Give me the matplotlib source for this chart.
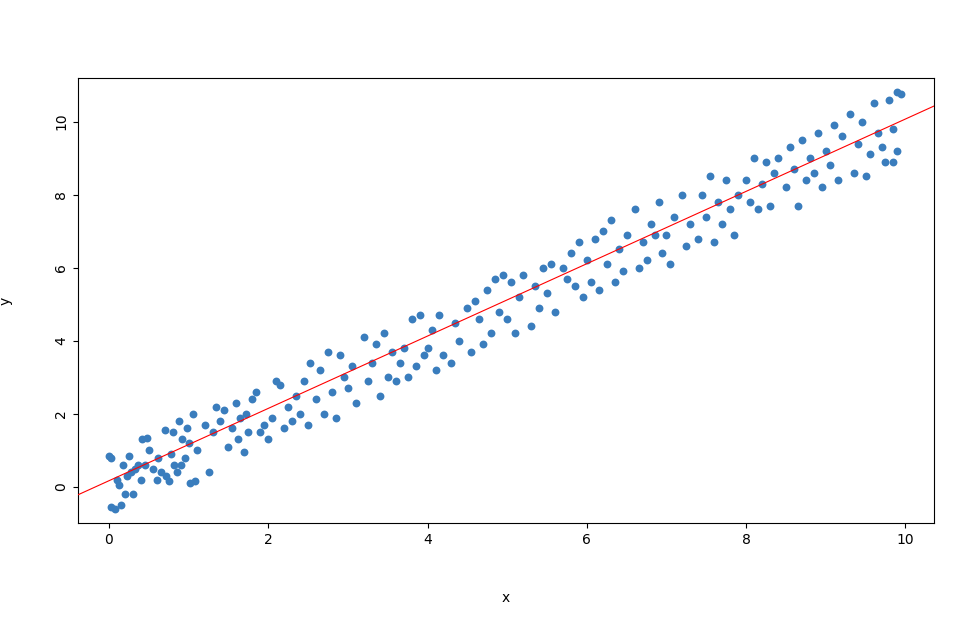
import matplotlib
matplotlib.use("Agg")
import matplotlib.pyplot as plt

pts = [(0.0,0.85),(0.02,0.8),(0.03,-0.55),(0.08,-0.6),(0.1,0.2),(0.12,0.05),(0.15,-0.5),(0.18,0.6),(0.2,-0.2),(0.22,0.3),(0.25,0.85),(0.28,0.4),(0.3,-0.2),(0.33,0.5),(0.36,0.6),(0.4,0.2),(0.42,1.3),(0.45,0.6),(0.48,1.35),(0.5,1.0),(0.55,0.5),(0.6,0.2),(0.62,0.8),(0.65,0.4),(0.7,1.55),(0.72,0.3),(0.75,0.15),(0.78,0.9),(0.8,1.5),(0.82,0.6),(0.85,0.4),(0.88,1.8),(0.9,0.6),(0.92,1.3),(0.95,0.8),(0.98,1.6),(1.0,1.2),(1.02,0.1),(1.05,2.0),(1.08,0.15),(1.1,1.0),(1.2,1.7),(1.25,0.4),(1.3,1.5),(1.35,2.2),(1.4,1.8),(1.45,2.1),(1.5,1.1),(1.55,1.6),(1.6,2.3),(1.62,1.3),(1.65,1.9),(1.7,0.95),(1.72,2.0),(1.75,1.5),(1.8,2.4),(1.85,2.6),(1.9,1.5),(1.95,1.7),(2.0,1.3),(2.05,1.9),(2.1,2.9),(2.15,2.8),(2.2,1.6),(2.25,2.2),(2.3,1.8),(2.35,2.5),(2.4,2.0),(2.45,2.9),(2.5,1.7),(2.52,3.4),(2.6,2.4),(2.65,3.2),(2.7,2.0),(2.75,3.7),(2.8,2.6),(2.85,1.9),(2.9,3.6),(2.95,3.0),(3.0,2.7),(3.05,3.3),(3.1,2.3),(3.2,4.1),(3.25,2.9),(3.3,3.4),(3.35,3.9),(3.4,2.5),(3.45,4.2),(3.5,3.0),(3.55,3.7),(3.6,2.9),(3.65,3.4),(3.7,3.8),(3.75,3.0),(3.8,4.6),(3.85,3.3),(3.9,4.7),(3.95,3.6),(4.0,3.8),(4.05,4.3),(4.1,3.2),(4.15,4.7),(4.2,3.6),(4.3,3.4),(4.35,4.5),(4.4,4.0),(4.5,4.9),(4.55,3.7),(4.6,5.1),(4.65,4.6),(4.7,3.9),(4.75,5.4),(4.8,4.2),(4.85,5.7),(4.9,4.8),(4.95,5.8),(5.0,4.6),(5.05,5.6),(5.1,4.2),(5.15,5.2),(5.2,5.8),(5.3,4.4),(5.35,5.5),(5.4,4.9),(5.45,6.0),(5.5,5.3),(5.55,6.1),(5.6,4.8),(5.7,6.0),(5.75,5.7),(5.8,6.4),(5.85,5.5),(5.9,6.7),(5.95,5.2),(6.0,6.2),(6.05,5.6),(6.1,6.8),(6.15,5.4),(6.2,7.0),(6.25,6.1),(6.3,7.3),(6.35,5.6),(6.4,6.5),(6.45,5.9),(6.5,6.9),(6.6,7.6),(6.65,6.0),(6.7,6.7),(6.75,6.2),(6.8,7.2),(6.85,6.9),(6.9,7.8),(6.95,6.4),(7.0,6.9),(7.05,6.1),(7.1,7.4),(7.2,8.0),(7.25,6.6),(7.3,7.2),(7.4,6.8),(7.45,8.0),(7.5,7.4),(7.55,8.5),(7.6,6.7),(7.65,7.8),(7.7,7.2),(7.75,8.4),(7.8,7.6),(7.85,6.9),(7.9,8.0),(8.0,8.4),(8.05,7.8),(8.1,9.0),(8.15,7.6),(8.2,8.3),(8.25,8.9),(8.3,7.7),(8.35,8.6),(8.4,9.0),(8.5,8.2),(8.55,9.3),(8.6,8.7),(8.65,7.7),(8.7,9.5),(8.75,8.4),(8.8,9.0),(8.85,8.6),(8.9,9.7),(8.95,8.2),(9.0,9.2),(9.05,8.8),(9.1,9.9),(9.15,8.4),(9.2,9.6),(9.3,10.2),(9.35,8.6),(9.4,9.4),(9.45,10.0),(9.5,8.5),(9.55,9.1),(9.6,10.5),(9.65,9.7),(9.7,9.3),(9.75,8.9),(9.8,10.6),(9.85,9.8),(9.9,10.8),(9.95,10.75),(9.9,9.2),(9.85,8.9)]
x = [p[0] for p in pts]
y = [p[1] for p in pts]
intercept = 0.17
slope = 0.99

fig = plt.figure(figsize=(9.74, 6.22), dpi=100)
ax = fig.add_axes([0.080, 0.159, 0.879, 0.716])
ax.scatter(x, y, s=32, color="#3a7dbd", zorder=2, linewidths=0)
ax.axline((0, intercept), slope=slope, color="red", lw=0.8, zorder=3)
ax.set_xlim(-0.39, 10.36)
ax.set_ylim(-0.99, 11.2)
ax.set_xticks(range(0, 11, 2))
ax.set_yticks(range(0, 11, 2))
ax.tick_params(labelsize=10)
for lab in ax.get_yticklabels():
    lab.set_rotation(90); lab.set_va("center")
ax.set_xlabel("x", labelpad=32)
ax.set_ylabel("y", labelpad=30)
fig.savefig("out.png", dpi=100)
